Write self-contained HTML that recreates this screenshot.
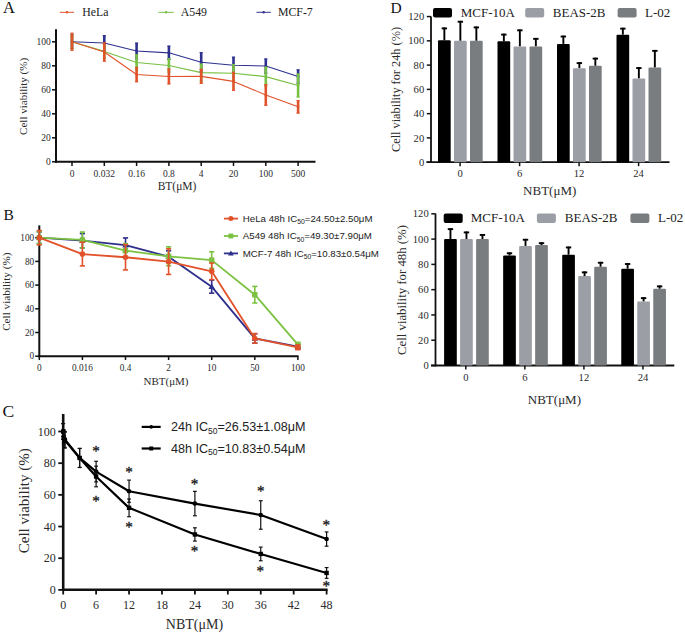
<!DOCTYPE html>
<html><head><meta charset="utf-8"><title>Cell viability figure</title>
<style>
html,body{margin:0;padding:0;background:#fff;}
body{width:685px;height:633px;overflow:hidden;font-family:"Liberation Serif", serif;}
svg{display:block;}
</style></head>
<body>
<svg width="685" height="633" viewBox="0 0 685 633">
<rect width="685" height="633" fill="#fff"/>
<text x="3" y="13.2" font-family='"Liberation Serif", serif' font-size="16.5" text-anchor="start" fill="#111" >A</text>
<line x1="56" y1="29.2" x2="56" y2="162.8" stroke="#111" stroke-width="2" />
<line x1="55" y1="161.8" x2="315.5" y2="161.8" stroke="#111" stroke-width="2" />
<line x1="52" y1="161.8" x2="56" y2="161.8" stroke="#111" stroke-width="1.5" />
<text x="50.8" y="165" font-family='"Liberation Serif", serif' font-size="9.5" text-anchor="end" fill="#2a2a2a" >0</text>
<line x1="52" y1="137.8" x2="56" y2="137.8" stroke="#111" stroke-width="1.5" />
<text x="50.8" y="141" font-family='"Liberation Serif", serif' font-size="9.5" text-anchor="end" fill="#2a2a2a" >20</text>
<line x1="52" y1="113.8" x2="56" y2="113.8" stroke="#111" stroke-width="1.5" />
<text x="50.8" y="117" font-family='"Liberation Serif", serif' font-size="9.5" text-anchor="end" fill="#2a2a2a" >40</text>
<line x1="52" y1="89.8" x2="56" y2="89.8" stroke="#111" stroke-width="1.5" />
<text x="50.8" y="93" font-family='"Liberation Serif", serif' font-size="9.5" text-anchor="end" fill="#2a2a2a" >60</text>
<line x1="52" y1="65.8" x2="56" y2="65.8" stroke="#111" stroke-width="1.5" />
<text x="50.8" y="69" font-family='"Liberation Serif", serif' font-size="9.5" text-anchor="end" fill="#2a2a2a" >80</text>
<line x1="52" y1="41.8" x2="56" y2="41.8" stroke="#111" stroke-width="1.5" />
<text x="50.8" y="45" font-family='"Liberation Serif", serif' font-size="9.5" text-anchor="end" fill="#2a2a2a" >100</text>
<line x1="72" y1="161.8" x2="72" y2="166" stroke="#111" stroke-width="1.5" />
<text x="72" y="176.6" font-family='"Liberation Serif", serif' font-size="9.5" text-anchor="middle" fill="#2a2a2a" >0</text>
<line x1="104.3" y1="161.8" x2="104.3" y2="166" stroke="#111" stroke-width="1.5" />
<text x="104.3" y="176.6" font-family='"Liberation Serif", serif' font-size="9.5" text-anchor="middle" fill="#2a2a2a" >0.032</text>
<line x1="136.6" y1="161.8" x2="136.6" y2="166" stroke="#111" stroke-width="1.5" />
<text x="136.6" y="176.6" font-family='"Liberation Serif", serif' font-size="9.5" text-anchor="middle" fill="#2a2a2a" >0.16</text>
<line x1="168.9" y1="161.8" x2="168.9" y2="166" stroke="#111" stroke-width="1.5" />
<text x="168.9" y="176.6" font-family='"Liberation Serif", serif' font-size="9.5" text-anchor="middle" fill="#2a2a2a" >0.8</text>
<line x1="201.2" y1="161.8" x2="201.2" y2="166" stroke="#111" stroke-width="1.5" />
<text x="201.2" y="176.6" font-family='"Liberation Serif", serif' font-size="9.5" text-anchor="middle" fill="#2a2a2a" >4</text>
<line x1="233.5" y1="161.8" x2="233.5" y2="166" stroke="#111" stroke-width="1.5" />
<text x="233.5" y="176.6" font-family='"Liberation Serif", serif' font-size="9.5" text-anchor="middle" fill="#2a2a2a" >20</text>
<line x1="265.8" y1="161.8" x2="265.8" y2="166" stroke="#111" stroke-width="1.5" />
<text x="265.8" y="176.6" font-family='"Liberation Serif", serif' font-size="9.5" text-anchor="middle" fill="#2a2a2a" >100</text>
<line x1="298.1" y1="161.8" x2="298.1" y2="166" stroke="#111" stroke-width="1.5" />
<text x="298.1" y="176.6" font-family='"Liberation Serif", serif' font-size="9.5" text-anchor="middle" fill="#2a2a2a" >500</text>
<text x="177" y="190.4" font-family='"Liberation Serif", serif' font-size="11.5" text-anchor="middle" fill="#2a2a2a" >BT(μM)</text>
<text x="27.4" y="96.4" font-family='"Liberation Serif", serif' font-size="11" text-anchor="middle" fill="#2a2a2a" transform="rotate(-90 27.4 96.4)">Cell viability (%)</text>
<polyline points="72,41.8 104.3,43 136.6,51.04 168.9,52.84 201.2,62.2 233.5,65.2 265.8,66.04 298.1,76.6" fill="none" stroke="#2e318f" stroke-width="1.1" stroke-linejoin="round"/>
<polyline points="72,41.8 104.3,51.4 136.6,62.44 168.9,65.44 201.2,72.64 233.5,73.24 265.8,76.6 298.1,85.48" fill="none" stroke="#77c043" stroke-width="1.1" stroke-linejoin="round"/>
<polyline points="72,41.8 104.3,52 136.6,74.56 168.9,76.48 201.2,76.36 233.5,81.4 265.8,94.96 298.1,106.84" fill="none" stroke="#e0532b" stroke-width="1.1" stroke-linejoin="round"/>
<line x1="72" y1="34.6" x2="72" y2="49" stroke="#2e318f" stroke-width="2.6" />
<line x1="70.4" y1="35.1" x2="73.6" y2="35.1" stroke="#2e318f" stroke-width="1" />
<line x1="70.4" y1="48.5" x2="73.6" y2="48.5" stroke="#2e318f" stroke-width="1" />
<circle cx="72" cy="41.8" r="1.3" fill="#2e318f"/>
<line x1="104.3" y1="35.2" x2="104.3" y2="50.8" stroke="#2e318f" stroke-width="2.6" />
<line x1="102.7" y1="35.7" x2="105.9" y2="35.7" stroke="#2e318f" stroke-width="1" />
<line x1="102.7" y1="50.3" x2="105.9" y2="50.3" stroke="#2e318f" stroke-width="1" />
<circle cx="104.3" cy="43" r="1.3" fill="#2e318f"/>
<line x1="136.6" y1="42.64" x2="136.6" y2="59.44" stroke="#2e318f" stroke-width="2.6" />
<line x1="135" y1="43.14" x2="138.2" y2="43.14" stroke="#2e318f" stroke-width="1" />
<line x1="135" y1="58.94" x2="138.2" y2="58.94" stroke="#2e318f" stroke-width="1" />
<circle cx="136.6" cy="51.04" r="1.3" fill="#2e318f"/>
<line x1="168.9" y1="45.64" x2="168.9" y2="60.04" stroke="#2e318f" stroke-width="2.6" />
<line x1="167.3" y1="46.14" x2="170.5" y2="46.14" stroke="#2e318f" stroke-width="1" />
<line x1="167.3" y1="59.54" x2="170.5" y2="59.54" stroke="#2e318f" stroke-width="1" />
<circle cx="168.9" cy="52.84" r="1.3" fill="#2e318f"/>
<line x1="201.2" y1="52.12" x2="201.2" y2="72.28" stroke="#2e318f" stroke-width="2.6" />
<line x1="199.6" y1="52.62" x2="202.8" y2="52.62" stroke="#2e318f" stroke-width="1" />
<line x1="199.6" y1="71.78" x2="202.8" y2="71.78" stroke="#2e318f" stroke-width="1" />
<circle cx="201.2" cy="62.2" r="1.3" fill="#2e318f"/>
<line x1="233.5" y1="56.68" x2="233.5" y2="73.72" stroke="#2e318f" stroke-width="2.6" />
<line x1="231.9" y1="57.18" x2="235.1" y2="57.18" stroke="#2e318f" stroke-width="1" />
<line x1="231.9" y1="73.22" x2="235.1" y2="73.22" stroke="#2e318f" stroke-width="1" />
<circle cx="233.5" cy="65.2" r="1.3" fill="#2e318f"/>
<line x1="265.8" y1="58.48" x2="265.8" y2="73.6" stroke="#2e318f" stroke-width="2.6" />
<line x1="264.2" y1="58.98" x2="267.4" y2="58.98" stroke="#2e318f" stroke-width="1" />
<line x1="264.2" y1="73.1" x2="267.4" y2="73.1" stroke="#2e318f" stroke-width="1" />
<circle cx="265.8" cy="66.04" r="1.3" fill="#2e318f"/>
<line x1="298.1" y1="69.4" x2="298.1" y2="83.8" stroke="#2e318f" stroke-width="2.6" />
<line x1="296.5" y1="69.9" x2="299.7" y2="69.9" stroke="#2e318f" stroke-width="1" />
<line x1="296.5" y1="83.3" x2="299.7" y2="83.3" stroke="#2e318f" stroke-width="1" />
<circle cx="298.1" cy="76.6" r="1.3" fill="#2e318f"/>
<line x1="72" y1="34.6" x2="72" y2="49" stroke="#77c043" stroke-width="2.6" />
<line x1="70.4" y1="35.1" x2="73.6" y2="35.1" stroke="#77c043" stroke-width="1" />
<line x1="70.4" y1="48.5" x2="73.6" y2="48.5" stroke="#77c043" stroke-width="1" />
<circle cx="72" cy="41.8" r="1.3" fill="#77c043"/>
<line x1="104.3" y1="44.2" x2="104.3" y2="58.6" stroke="#77c043" stroke-width="2.6" />
<line x1="102.7" y1="44.7" x2="105.9" y2="44.7" stroke="#77c043" stroke-width="1" />
<line x1="102.7" y1="58.1" x2="105.9" y2="58.1" stroke="#77c043" stroke-width="1" />
<circle cx="104.3" cy="51.4" r="1.3" fill="#77c043"/>
<line x1="136.6" y1="54.4" x2="136.6" y2="70.48" stroke="#77c043" stroke-width="2.6" />
<line x1="135" y1="54.9" x2="138.2" y2="54.9" stroke="#77c043" stroke-width="1" />
<line x1="135" y1="69.98" x2="138.2" y2="69.98" stroke="#77c043" stroke-width="1" />
<circle cx="136.6" cy="62.44" r="1.3" fill="#77c043"/>
<line x1="168.9" y1="58.24" x2="168.9" y2="72.64" stroke="#77c043" stroke-width="2.6" />
<line x1="167.3" y1="58.74" x2="170.5" y2="58.74" stroke="#77c043" stroke-width="1" />
<line x1="167.3" y1="72.14" x2="170.5" y2="72.14" stroke="#77c043" stroke-width="1" />
<circle cx="168.9" cy="65.44" r="1.3" fill="#77c043"/>
<line x1="201.2" y1="63.64" x2="201.2" y2="81.64" stroke="#77c043" stroke-width="2.6" />
<line x1="199.6" y1="64.14" x2="202.8" y2="64.14" stroke="#77c043" stroke-width="1" />
<line x1="199.6" y1="81.14" x2="202.8" y2="81.14" stroke="#77c043" stroke-width="1" />
<circle cx="201.2" cy="72.64" r="1.3" fill="#77c043"/>
<line x1="233.5" y1="64.12" x2="233.5" y2="82.36" stroke="#77c043" stroke-width="2.6" />
<line x1="231.9" y1="64.62" x2="235.1" y2="64.62" stroke="#77c043" stroke-width="1" />
<line x1="231.9" y1="81.86" x2="235.1" y2="81.86" stroke="#77c043" stroke-width="1" />
<circle cx="233.5" cy="73.24" r="1.3" fill="#77c043"/>
<line x1="265.8" y1="66.64" x2="265.8" y2="86.56" stroke="#77c043" stroke-width="2.6" />
<line x1="264.2" y1="67.14" x2="267.4" y2="67.14" stroke="#77c043" stroke-width="1" />
<line x1="264.2" y1="86.06" x2="267.4" y2="86.06" stroke="#77c043" stroke-width="1" />
<circle cx="265.8" cy="76.6" r="1.3" fill="#77c043"/>
<line x1="298.1" y1="73.48" x2="298.1" y2="97.48" stroke="#77c043" stroke-width="2.6" />
<line x1="296.5" y1="73.98" x2="299.7" y2="73.98" stroke="#77c043" stroke-width="1" />
<line x1="296.5" y1="96.98" x2="299.7" y2="96.98" stroke="#77c043" stroke-width="1" />
<circle cx="298.1" cy="85.48" r="1.3" fill="#77c043"/>
<line x1="72" y1="32.8" x2="72" y2="50.8" stroke="#e0532b" stroke-width="2.6" />
<line x1="70.4" y1="33.3" x2="73.6" y2="33.3" stroke="#e0532b" stroke-width="1" />
<line x1="70.4" y1="50.3" x2="73.6" y2="50.3" stroke="#e0532b" stroke-width="1" />
<circle cx="72" cy="41.8" r="1.3" fill="#e0532b"/>
<line x1="104.3" y1="42.4" x2="104.3" y2="61.6" stroke="#e0532b" stroke-width="2.6" />
<line x1="102.7" y1="42.9" x2="105.9" y2="42.9" stroke="#e0532b" stroke-width="1" />
<line x1="102.7" y1="61.1" x2="105.9" y2="61.1" stroke="#e0532b" stroke-width="1" />
<circle cx="104.3" cy="52" r="1.3" fill="#e0532b"/>
<line x1="136.6" y1="66.88" x2="136.6" y2="82.24" stroke="#e0532b" stroke-width="2.6" />
<line x1="135" y1="67.38" x2="138.2" y2="67.38" stroke="#e0532b" stroke-width="1" />
<line x1="135" y1="81.74" x2="138.2" y2="81.74" stroke="#e0532b" stroke-width="1" />
<circle cx="136.6" cy="74.56" r="1.3" fill="#e0532b"/>
<line x1="168.9" y1="68.56" x2="168.9" y2="84.4" stroke="#e0532b" stroke-width="2.6" />
<line x1="167.3" y1="69.06" x2="170.5" y2="69.06" stroke="#e0532b" stroke-width="1" />
<line x1="167.3" y1="83.9" x2="170.5" y2="83.9" stroke="#e0532b" stroke-width="1" />
<circle cx="168.9" cy="76.48" r="1.3" fill="#e0532b"/>
<line x1="201.2" y1="68.8" x2="201.2" y2="83.92" stroke="#e0532b" stroke-width="2.6" />
<line x1="199.6" y1="69.3" x2="202.8" y2="69.3" stroke="#e0532b" stroke-width="1" />
<line x1="199.6" y1="83.42" x2="202.8" y2="83.42" stroke="#e0532b" stroke-width="1" />
<circle cx="201.2" cy="76.36" r="1.3" fill="#e0532b"/>
<line x1="233.5" y1="71.8" x2="233.5" y2="91" stroke="#e0532b" stroke-width="2.6" />
<line x1="231.9" y1="72.3" x2="235.1" y2="72.3" stroke="#e0532b" stroke-width="1" />
<line x1="231.9" y1="90.5" x2="235.1" y2="90.5" stroke="#e0532b" stroke-width="1" />
<circle cx="233.5" cy="81.4" r="1.3" fill="#e0532b"/>
<line x1="265.8" y1="84.16" x2="265.8" y2="105.76" stroke="#e0532b" stroke-width="2.6" />
<line x1="264.2" y1="84.66" x2="267.4" y2="84.66" stroke="#e0532b" stroke-width="1" />
<line x1="264.2" y1="105.26" x2="267.4" y2="105.26" stroke="#e0532b" stroke-width="1" />
<circle cx="265.8" cy="94.96" r="1.3" fill="#e0532b"/>
<line x1="298.1" y1="100.12" x2="298.1" y2="113.56" stroke="#e0532b" stroke-width="2.6" />
<line x1="296.5" y1="100.62" x2="299.7" y2="100.62" stroke="#e0532b" stroke-width="1" />
<line x1="296.5" y1="113.06" x2="299.7" y2="113.06" stroke="#e0532b" stroke-width="1" />
<circle cx="298.1" cy="106.84" r="1.3" fill="#e0532b"/>
<line x1="59.8" y1="12.3" x2="74.1" y2="12.3" stroke="#e0532b" stroke-width="1" />
<circle cx="66.95" cy="12.3" r="1.2" fill="#e0532b"/>
<text x="82.3" y="16.2" font-family='"Liberation Serif", serif' font-size="11.8" text-anchor="start" fill="#222" >HeLa</text>
<line x1="158.4" y1="12.3" x2="173.7" y2="12.3" stroke="#77c043" stroke-width="1" />
<circle cx="166.05" cy="12.3" r="1.2" fill="#77c043"/>
<text x="180.8" y="16.2" font-family='"Liberation Serif", serif' font-size="11.8" text-anchor="start" fill="#222" >A549</text>
<line x1="256.5" y1="12.3" x2="270.8" y2="12.3" stroke="#2e318f" stroke-width="1" />
<circle cx="263.65" cy="12.3" r="1.2" fill="#2e318f"/>
<text x="278" y="16.2" font-family='"Liberation Serif", serif' font-size="11.8" text-anchor="start" fill="#222" >MCF-7</text>
<text x="3.5" y="219.7" font-family='"Liberation Serif", serif' font-size="15.5" text-anchor="start" fill="#111" >B</text>
<line x1="39.3" y1="225.4" x2="39.3" y2="357.2" stroke="#111" stroke-width="2" />
<line x1="38.3" y1="356.2" x2="298.5" y2="356.2" stroke="#111" stroke-width="2" />
<line x1="35.2" y1="356.2" x2="39.3" y2="356.2" stroke="#111" stroke-width="1.5" />
<text x="34.2" y="359.3" font-family='"Liberation Serif", serif' font-size="9.3" text-anchor="end" fill="#2a2a2a" >0</text>
<line x1="35.2" y1="332.5" x2="39.3" y2="332.5" stroke="#111" stroke-width="1.5" />
<text x="34.2" y="335.6" font-family='"Liberation Serif", serif' font-size="9.3" text-anchor="end" fill="#2a2a2a" >20</text>
<line x1="35.2" y1="308.8" x2="39.3" y2="308.8" stroke="#111" stroke-width="1.5" />
<text x="34.2" y="311.9" font-family='"Liberation Serif", serif' font-size="9.3" text-anchor="end" fill="#2a2a2a" >40</text>
<line x1="35.2" y1="285.1" x2="39.3" y2="285.1" stroke="#111" stroke-width="1.5" />
<text x="34.2" y="288.2" font-family='"Liberation Serif", serif' font-size="9.3" text-anchor="end" fill="#2a2a2a" >60</text>
<line x1="35.2" y1="261.4" x2="39.3" y2="261.4" stroke="#111" stroke-width="1.5" />
<text x="34.2" y="264.5" font-family='"Liberation Serif", serif' font-size="9.3" text-anchor="end" fill="#2a2a2a" >80</text>
<line x1="35.2" y1="237.7" x2="39.3" y2="237.7" stroke="#111" stroke-width="1.5" />
<text x="34.2" y="240.8" font-family='"Liberation Serif", serif' font-size="9.3" text-anchor="end" fill="#2a2a2a" >100</text>
<line x1="39.3" y1="356.2" x2="39.3" y2="360" stroke="#111" stroke-width="1.5" />
<text x="39.3" y="370.6" font-family='"Liberation Serif", serif' font-size="9.3" text-anchor="middle" fill="#2a2a2a" >0</text>
<line x1="82.4" y1="356.2" x2="82.4" y2="360" stroke="#111" stroke-width="1.5" />
<text x="82.4" y="370.6" font-family='"Liberation Serif", serif' font-size="9.3" text-anchor="middle" fill="#2a2a2a" >0.016</text>
<line x1="125.5" y1="356.2" x2="125.5" y2="360" stroke="#111" stroke-width="1.5" />
<text x="125.5" y="370.6" font-family='"Liberation Serif", serif' font-size="9.3" text-anchor="middle" fill="#2a2a2a" >0.4</text>
<line x1="168.6" y1="356.2" x2="168.6" y2="360" stroke="#111" stroke-width="1.5" />
<text x="168.6" y="370.6" font-family='"Liberation Serif", serif' font-size="9.3" text-anchor="middle" fill="#2a2a2a" >2</text>
<line x1="211.7" y1="356.2" x2="211.7" y2="360" stroke="#111" stroke-width="1.5" />
<text x="211.7" y="370.6" font-family='"Liberation Serif", serif' font-size="9.3" text-anchor="middle" fill="#2a2a2a" >10</text>
<line x1="254.8" y1="356.2" x2="254.8" y2="360" stroke="#111" stroke-width="1.5" />
<text x="254.8" y="370.6" font-family='"Liberation Serif", serif' font-size="9.3" text-anchor="middle" fill="#2a2a2a" >50</text>
<line x1="297.9" y1="356.2" x2="297.9" y2="360" stroke="#111" stroke-width="1.5" />
<text x="297.9" y="370.6" font-family='"Liberation Serif", serif' font-size="9.3" text-anchor="middle" fill="#2a2a2a" >100</text>
<text x="166" y="384.8" font-family='"Liberation Serif", serif' font-size="11" text-anchor="middle" fill="#2a2a2a" >NBT(μM)</text>
<text x="10.5" y="291.7" font-family='"Liberation Serif", serif' font-size="11.2" text-anchor="middle" fill="#2a2a2a" transform="rotate(-90 10.5 291.7)">Cell viability (%)</text>
<polyline points="39.3,237.7 82.4,240.66 125.5,245.05 168.6,256.66 211.7,286.64 254.8,338.43 297.9,346.72" fill="none" stroke="#2e2f8c" stroke-width="1.8" stroke-linejoin="round"/>
<line x1="39.3" y1="231.77" x2="39.3" y2="243.62" stroke="#2e2f8c" stroke-width="1.6" />
<line x1="36.7" y1="231.77" x2="41.9" y2="231.77" stroke="#2e2f8c" stroke-width="1.6" />
<line x1="36.7" y1="243.62" x2="41.9" y2="243.62" stroke="#2e2f8c" stroke-width="1.6" />
<polygon points="39.3,234.5 42.5,240.1 36.1,240.1" fill="#2e2f8c"/>
<line x1="82.4" y1="233.55" x2="82.4" y2="247.77" stroke="#2e2f8c" stroke-width="1.6" />
<line x1="79.8" y1="233.55" x2="85" y2="233.55" stroke="#2e2f8c" stroke-width="1.6" />
<line x1="79.8" y1="247.77" x2="85" y2="247.77" stroke="#2e2f8c" stroke-width="1.6" />
<polygon points="82.4,237.46 85.6,243.06 79.2,243.06" fill="#2e2f8c"/>
<line x1="125.5" y1="237.94" x2="125.5" y2="252.16" stroke="#2e2f8c" stroke-width="1.6" />
<line x1="122.9" y1="237.94" x2="128.1" y2="237.94" stroke="#2e2f8c" stroke-width="1.6" />
<line x1="122.9" y1="252.16" x2="128.1" y2="252.16" stroke="#2e2f8c" stroke-width="1.6" />
<polygon points="125.5,241.85 128.7,247.45 122.3,247.45" fill="#2e2f8c"/>
<line x1="168.6" y1="250.73" x2="168.6" y2="262.58" stroke="#2e2f8c" stroke-width="1.6" />
<line x1="166" y1="250.73" x2="171.2" y2="250.73" stroke="#2e2f8c" stroke-width="1.6" />
<line x1="166" y1="262.58" x2="171.2" y2="262.58" stroke="#2e2f8c" stroke-width="1.6" />
<polygon points="168.6,253.46 171.8,259.06 165.4,259.06" fill="#2e2f8c"/>
<line x1="211.7" y1="280.12" x2="211.7" y2="293.16" stroke="#2e2f8c" stroke-width="1.6" />
<line x1="209.1" y1="280.12" x2="214.3" y2="280.12" stroke="#2e2f8c" stroke-width="1.6" />
<line x1="209.1" y1="293.16" x2="214.3" y2="293.16" stroke="#2e2f8c" stroke-width="1.6" />
<polygon points="211.7,283.44 214.9,289.04 208.5,289.04" fill="#2e2f8c"/>
<line x1="254.8" y1="333.69" x2="254.8" y2="343.16" stroke="#2e2f8c" stroke-width="1.6" />
<line x1="252.2" y1="333.69" x2="257.4" y2="333.69" stroke="#2e2f8c" stroke-width="1.6" />
<line x1="252.2" y1="343.16" x2="257.4" y2="343.16" stroke="#2e2f8c" stroke-width="1.6" />
<polygon points="254.8,335.23 258,340.82 251.6,340.82" fill="#2e2f8c"/>
<line x1="297.9" y1="344.35" x2="297.9" y2="349.09" stroke="#2e2f8c" stroke-width="1.6" />
<line x1="295.3" y1="344.35" x2="300.5" y2="344.35" stroke="#2e2f8c" stroke-width="1.6" />
<line x1="295.3" y1="349.09" x2="300.5" y2="349.09" stroke="#2e2f8c" stroke-width="1.6" />
<polygon points="297.9,343.52 301.1,349.12 294.7,349.12" fill="#2e2f8c"/>
<polyline points="39.3,237.7 82.4,239.95 125.5,250.73 168.6,256.3 211.7,260.1 254.8,294.7 297.9,344.71" fill="none" stroke="#7cc242" stroke-width="1.8" stroke-linejoin="round"/>
<line x1="39.3" y1="231.77" x2="39.3" y2="243.62" stroke="#7cc242" stroke-width="1.6" />
<line x1="36.7" y1="231.77" x2="41.9" y2="231.77" stroke="#7cc242" stroke-width="1.6" />
<line x1="36.7" y1="243.62" x2="41.9" y2="243.62" stroke="#7cc242" stroke-width="1.6" />
<rect x="36.6" y="235" width="5.4" height="5.4" fill="#7cc242" />
<line x1="82.4" y1="232.01" x2="82.4" y2="247.89" stroke="#7cc242" stroke-width="1.6" />
<line x1="79.8" y1="232.01" x2="85" y2="232.01" stroke="#7cc242" stroke-width="1.6" />
<line x1="79.8" y1="247.89" x2="85" y2="247.89" stroke="#7cc242" stroke-width="1.6" />
<rect x="79.7" y="237.25" width="5.4" height="5.4" fill="#7cc242" />
<line x1="125.5" y1="243.62" x2="125.5" y2="257.84" stroke="#7cc242" stroke-width="1.6" />
<line x1="122.9" y1="243.62" x2="128.1" y2="243.62" stroke="#7cc242" stroke-width="1.6" />
<line x1="122.9" y1="257.84" x2="128.1" y2="257.84" stroke="#7cc242" stroke-width="1.6" />
<rect x="122.8" y="248.03" width="5.4" height="5.4" fill="#7cc242" />
<line x1="168.6" y1="246.82" x2="168.6" y2="265.78" stroke="#7cc242" stroke-width="1.6" />
<line x1="166" y1="246.82" x2="171.2" y2="246.82" stroke="#7cc242" stroke-width="1.6" />
<line x1="166" y1="265.78" x2="171.2" y2="265.78" stroke="#7cc242" stroke-width="1.6" />
<rect x="165.9" y="253.6" width="5.4" height="5.4" fill="#7cc242" />
<line x1="211.7" y1="251.8" x2="211.7" y2="268.39" stroke="#7cc242" stroke-width="1.6" />
<line x1="209.1" y1="251.8" x2="214.3" y2="251.8" stroke="#7cc242" stroke-width="1.6" />
<line x1="209.1" y1="268.39" x2="214.3" y2="268.39" stroke="#7cc242" stroke-width="1.6" />
<rect x="209" y="257.4" width="5.4" height="5.4" fill="#7cc242" />
<line x1="254.8" y1="286.4" x2="254.8" y2="302.99" stroke="#7cc242" stroke-width="1.6" />
<line x1="252.2" y1="286.4" x2="257.4" y2="286.4" stroke="#7cc242" stroke-width="1.6" />
<line x1="252.2" y1="302.99" x2="257.4" y2="302.99" stroke="#7cc242" stroke-width="1.6" />
<rect x="252.1" y="292" width="5.4" height="5.4" fill="#7cc242" />
<line x1="297.9" y1="342.34" x2="297.9" y2="347.08" stroke="#7cc242" stroke-width="1.6" />
<line x1="295.3" y1="342.34" x2="300.5" y2="342.34" stroke="#7cc242" stroke-width="1.6" />
<line x1="295.3" y1="347.08" x2="300.5" y2="347.08" stroke="#7cc242" stroke-width="1.6" />
<rect x="295.2" y="342.01" width="5.4" height="5.4" fill="#7cc242" />
<polyline points="39.3,237.7 82.4,254.05 125.5,257.25 168.6,261.64 211.7,271.35 254.8,338.43 297.9,347.31" fill="none" stroke="#e2522a" stroke-width="1.8" stroke-linejoin="round"/>
<line x1="39.3" y1="230.59" x2="39.3" y2="244.81" stroke="#e2522a" stroke-width="1.6" />
<line x1="36.7" y1="230.59" x2="41.9" y2="230.59" stroke="#e2522a" stroke-width="1.6" />
<line x1="36.7" y1="244.81" x2="41.9" y2="244.81" stroke="#e2522a" stroke-width="1.6" />
<circle cx="39.3" cy="237.7" r="2.8" fill="#e2522a"/>
<line x1="82.4" y1="242.2" x2="82.4" y2="265.9" stroke="#e2522a" stroke-width="1.6" />
<line x1="79.8" y1="242.2" x2="85" y2="242.2" stroke="#e2522a" stroke-width="1.6" />
<line x1="79.8" y1="265.9" x2="85" y2="265.9" stroke="#e2522a" stroke-width="1.6" />
<circle cx="82.4" cy="254.05" r="2.8" fill="#e2522a"/>
<line x1="125.5" y1="244.57" x2="125.5" y2="269.93" stroke="#e2522a" stroke-width="1.6" />
<line x1="122.9" y1="244.57" x2="128.1" y2="244.57" stroke="#e2522a" stroke-width="1.6" />
<line x1="122.9" y1="269.93" x2="128.1" y2="269.93" stroke="#e2522a" stroke-width="1.6" />
<circle cx="125.5" cy="257.25" r="2.8" fill="#e2522a"/>
<line x1="168.6" y1="248.84" x2="168.6" y2="274.44" stroke="#e2522a" stroke-width="1.6" />
<line x1="166" y1="248.84" x2="171.2" y2="248.84" stroke="#e2522a" stroke-width="1.6" />
<line x1="166" y1="274.44" x2="171.2" y2="274.44" stroke="#e2522a" stroke-width="1.6" />
<circle cx="168.6" cy="261.64" r="2.8" fill="#e2522a"/>
<line x1="211.7" y1="263.06" x2="211.7" y2="279.65" stroke="#e2522a" stroke-width="1.6" />
<line x1="209.1" y1="263.06" x2="214.3" y2="263.06" stroke="#e2522a" stroke-width="1.6" />
<line x1="209.1" y1="279.65" x2="214.3" y2="279.65" stroke="#e2522a" stroke-width="1.6" />
<circle cx="211.7" cy="271.35" r="2.8" fill="#e2522a"/>
<line x1="254.8" y1="333.69" x2="254.8" y2="343.16" stroke="#e2522a" stroke-width="1.6" />
<line x1="252.2" y1="333.69" x2="257.4" y2="333.69" stroke="#e2522a" stroke-width="1.6" />
<line x1="252.2" y1="343.16" x2="257.4" y2="343.16" stroke="#e2522a" stroke-width="1.6" />
<circle cx="254.8" cy="338.43" r="2.8" fill="#e2522a"/>
<line x1="297.9" y1="344.94" x2="297.9" y2="349.68" stroke="#e2522a" stroke-width="1.6" />
<line x1="295.3" y1="344.94" x2="300.5" y2="344.94" stroke="#e2522a" stroke-width="1.6" />
<line x1="295.3" y1="349.68" x2="300.5" y2="349.68" stroke="#e2522a" stroke-width="1.6" />
<circle cx="297.9" cy="347.31" r="2.8" fill="#e2522a"/>
<line x1="223.9" y1="218.6" x2="238" y2="218.6" stroke="#e2522a" stroke-width="1.8" />
<circle cx="230.9" cy="218.6" r="2.52" fill="#e2522a"/>
<text x="242.8" y="221.9" font-family='"Liberation Sans", sans-serif' font-size="9.7" text-anchor="start" fill="#222" >HeLa 48h IC<tspan font-size="6.8" dy="2.2">50</tspan><tspan dy="-2.2">=24.50±2.50μM</tspan></text>
<line x1="223.9" y1="236" x2="238" y2="236" stroke="#7cc242" stroke-width="1.8" />
<rect x="228.47" y="233.57" width="4.86" height="4.86" fill="#7cc242" />
<text x="242.8" y="239.3" font-family='"Liberation Sans", sans-serif' font-size="9.7" text-anchor="start" fill="#222" >A549 48h IC<tspan font-size="6.8" dy="2.2">50</tspan><tspan dy="-2.2">=49.30±7.90μM</tspan></text>
<line x1="223.9" y1="253.4" x2="238" y2="253.4" stroke="#2e2f8c" stroke-width="1.8" />
<polygon points="230.9,250.52 233.78,255.56 228.02,255.56" fill="#2e2f8c"/>
<text x="242.8" y="256.7" font-family='"Liberation Sans", sans-serif' font-size="9.7" text-anchor="start" fill="#222" >MCF-7 48h IC<tspan font-size="6.8" dy="2.2">50</tspan><tspan dy="-2.2">=10.83±0.54μM</tspan></text>
<text x="2.6" y="417" font-family='"Liberation Serif", serif' font-size="17.5" text-anchor="start" fill="#111" >C</text>
<line x1="63.2" y1="414" x2="63.2" y2="591" stroke="#111" stroke-width="2.6" />
<line x1="62" y1="589.7" x2="327.6" y2="589.7" stroke="#111" stroke-width="2.6" />
<line x1="58.3" y1="589.9" x2="63.2" y2="589.9" stroke="#111" stroke-width="1.8" />
<text x="55.8" y="594" font-family='"Liberation Serif", serif' font-size="12" text-anchor="end" fill="#2a2a2a" >0</text>
<line x1="58.3" y1="558.22" x2="63.2" y2="558.22" stroke="#111" stroke-width="1.8" />
<text x="55.8" y="562.32" font-family='"Liberation Serif", serif' font-size="12" text-anchor="end" fill="#2a2a2a" >20</text>
<line x1="58.3" y1="526.54" x2="63.2" y2="526.54" stroke="#111" stroke-width="1.8" />
<text x="55.8" y="530.64" font-family='"Liberation Serif", serif' font-size="12" text-anchor="end" fill="#2a2a2a" >40</text>
<line x1="58.3" y1="494.86" x2="63.2" y2="494.86" stroke="#111" stroke-width="1.8" />
<text x="55.8" y="498.96" font-family='"Liberation Serif", serif' font-size="12" text-anchor="end" fill="#2a2a2a" >60</text>
<line x1="58.3" y1="463.18" x2="63.2" y2="463.18" stroke="#111" stroke-width="1.8" />
<text x="55.8" y="467.28" font-family='"Liberation Serif", serif' font-size="12" text-anchor="end" fill="#2a2a2a" >80</text>
<line x1="58.3" y1="431.5" x2="63.2" y2="431.5" stroke="#111" stroke-width="1.8" />
<text x="55.8" y="435.6" font-family='"Liberation Serif", serif' font-size="12" text-anchor="end" fill="#2a2a2a" >100</text>
<line x1="63.2" y1="589.7" x2="63.2" y2="594.5" stroke="#111" stroke-width="1.8" />
<text x="63.2" y="609.3" font-family='"Liberation Serif", serif' font-size="12" text-anchor="middle" fill="#2a2a2a" >0</text>
<line x1="96.12" y1="589.7" x2="96.12" y2="594.5" stroke="#111" stroke-width="1.8" />
<text x="96.12" y="609.3" font-family='"Liberation Serif", serif' font-size="12" text-anchor="middle" fill="#2a2a2a" >6</text>
<line x1="129.05" y1="589.7" x2="129.05" y2="594.5" stroke="#111" stroke-width="1.8" />
<text x="129.05" y="609.3" font-family='"Liberation Serif", serif' font-size="12" text-anchor="middle" fill="#2a2a2a" >12</text>
<line x1="161.97" y1="589.7" x2="161.97" y2="594.5" stroke="#111" stroke-width="1.8" />
<text x="161.97" y="609.3" font-family='"Liberation Serif", serif' font-size="12" text-anchor="middle" fill="#2a2a2a" >18</text>
<line x1="194.9" y1="589.7" x2="194.9" y2="594.5" stroke="#111" stroke-width="1.8" />
<text x="194.9" y="609.3" font-family='"Liberation Serif", serif' font-size="12" text-anchor="middle" fill="#2a2a2a" >24</text>
<line x1="227.82" y1="589.7" x2="227.82" y2="594.5" stroke="#111" stroke-width="1.8" />
<text x="227.82" y="609.3" font-family='"Liberation Serif", serif' font-size="12" text-anchor="middle" fill="#2a2a2a" >30</text>
<line x1="260.75" y1="589.7" x2="260.75" y2="594.5" stroke="#111" stroke-width="1.8" />
<text x="260.75" y="609.3" font-family='"Liberation Serif", serif' font-size="12" text-anchor="middle" fill="#2a2a2a" >36</text>
<line x1="293.68" y1="589.7" x2="293.68" y2="594.5" stroke="#111" stroke-width="1.8" />
<text x="293.68" y="609.3" font-family='"Liberation Serif", serif' font-size="12" text-anchor="middle" fill="#2a2a2a" >42</text>
<line x1="326.6" y1="589.7" x2="326.6" y2="594.5" stroke="#111" stroke-width="1.8" />
<text x="326.6" y="609.3" font-family='"Liberation Serif", serif' font-size="12" text-anchor="middle" fill="#2a2a2a" >48</text>
<text x="194.5" y="629" font-family='"Liberation Serif", serif' font-size="14" text-anchor="middle" fill="#2a2a2a" >NBT(μM)</text>
<text x="29.2" y="500.8" font-family='"Liberation Serif", serif' font-size="15" text-anchor="middle" fill="#2a2a2a" transform="rotate(-90 29.2 500.8)">Cell viability (%)</text>
<polyline points="63.2,431.5 63.75,436.25 64.85,439.42 79.66,457.95 96.12,471.58 129.05,491.22 194.9,503.57 260.75,514.98 326.6,539.05" fill="none" stroke="#000" stroke-width="2.15" stroke-linejoin="round"/>
<line x1="63.2" y1="423.58" x2="63.2" y2="439.42" stroke="#111" stroke-width="1.2" />
<line x1="61.3" y1="423.58" x2="65.1" y2="423.58" stroke="#111" stroke-width="1.2" />
<line x1="61.3" y1="439.42" x2="65.1" y2="439.42" stroke="#111" stroke-width="1.2" />
<circle cx="63.2" cy="431.5" r="2.3" fill="#000"/>
<line x1="63.75" y1="429.92" x2="63.75" y2="442.59" stroke="#111" stroke-width="1.2" />
<line x1="61.85" y1="429.92" x2="65.65" y2="429.92" stroke="#111" stroke-width="1.2" />
<line x1="61.85" y1="442.59" x2="65.65" y2="442.59" stroke="#111" stroke-width="1.2" />
<circle cx="63.75" cy="436.25" r="2.3" fill="#000"/>
<line x1="64.85" y1="431.5" x2="64.85" y2="447.34" stroke="#111" stroke-width="1.2" />
<line x1="62.95" y1="431.5" x2="66.75" y2="431.5" stroke="#111" stroke-width="1.2" />
<line x1="62.95" y1="447.34" x2="66.75" y2="447.34" stroke="#111" stroke-width="1.2" />
<circle cx="64.85" cy="439.42" r="2.3" fill="#000"/>
<line x1="79.66" y1="448.45" x2="79.66" y2="467.46" stroke="#111" stroke-width="1.2" />
<line x1="77.76" y1="448.45" x2="81.56" y2="448.45" stroke="#111" stroke-width="1.2" />
<line x1="77.76" y1="467.46" x2="81.56" y2="467.46" stroke="#111" stroke-width="1.2" />
<circle cx="79.66" cy="457.95" r="2.3" fill="#000"/>
<line x1="96.12" y1="461.28" x2="96.12" y2="481.87" stroke="#111" stroke-width="1.2" />
<line x1="94.22" y1="461.28" x2="98.03" y2="461.28" stroke="#111" stroke-width="1.2" />
<line x1="94.22" y1="481.87" x2="98.03" y2="481.87" stroke="#111" stroke-width="1.2" />
<circle cx="96.12" cy="471.58" r="2.3" fill="#000"/>
<line x1="129.05" y1="480.13" x2="129.05" y2="502.3" stroke="#111" stroke-width="1.2" />
<line x1="127.15" y1="480.13" x2="130.95" y2="480.13" stroke="#111" stroke-width="1.2" />
<line x1="127.15" y1="502.3" x2="130.95" y2="502.3" stroke="#111" stroke-width="1.2" />
<circle cx="129.05" cy="491.22" r="2.3" fill="#000"/>
<line x1="194.9" y1="491.38" x2="194.9" y2="515.77" stroke="#111" stroke-width="1.2" />
<line x1="193" y1="491.38" x2="196.8" y2="491.38" stroke="#111" stroke-width="1.2" />
<line x1="193" y1="515.77" x2="196.8" y2="515.77" stroke="#111" stroke-width="1.2" />
<circle cx="194.9" cy="503.57" r="2.3" fill="#000"/>
<line x1="260.75" y1="500.72" x2="260.75" y2="529.23" stroke="#111" stroke-width="1.2" />
<line x1="258.85" y1="500.72" x2="262.65" y2="500.72" stroke="#111" stroke-width="1.2" />
<line x1="258.85" y1="529.23" x2="262.65" y2="529.23" stroke="#111" stroke-width="1.2" />
<circle cx="260.75" cy="514.98" r="2.3" fill="#000"/>
<line x1="326.6" y1="531.93" x2="326.6" y2="546.18" stroke="#111" stroke-width="1.2" />
<line x1="324.7" y1="531.93" x2="328.5" y2="531.93" stroke="#111" stroke-width="1.2" />
<line x1="324.7" y1="546.18" x2="328.5" y2="546.18" stroke="#111" stroke-width="1.2" />
<circle cx="326.6" cy="539.05" r="2.3" fill="#000"/>
<polyline points="63.2,431.5 63.75,437.84 64.85,440.21 79.66,457.95 96.12,476.49 129.05,507.85 194.9,534.46 260.75,553.94 326.6,572.95" fill="none" stroke="#000" stroke-width="2.15" stroke-linejoin="round"/>
<line x1="63.2" y1="423.58" x2="63.2" y2="439.42" stroke="#111" stroke-width="1.2" />
<line x1="61.3" y1="423.58" x2="65.1" y2="423.58" stroke="#111" stroke-width="1.2" />
<line x1="61.3" y1="439.42" x2="65.1" y2="439.42" stroke="#111" stroke-width="1.2" />
<rect x="61" y="429.3" width="4.4" height="4.4" fill="#000" />
<line x1="63.75" y1="431.5" x2="63.75" y2="444.17" stroke="#111" stroke-width="1.2" />
<line x1="61.85" y1="431.5" x2="65.65" y2="431.5" stroke="#111" stroke-width="1.2" />
<line x1="61.85" y1="444.17" x2="65.65" y2="444.17" stroke="#111" stroke-width="1.2" />
<rect x="61.55" y="435.64" width="4.4" height="4.4" fill="#000" />
<line x1="64.85" y1="432.29" x2="64.85" y2="448.13" stroke="#111" stroke-width="1.2" />
<line x1="62.95" y1="432.29" x2="66.75" y2="432.29" stroke="#111" stroke-width="1.2" />
<line x1="62.95" y1="448.13" x2="66.75" y2="448.13" stroke="#111" stroke-width="1.2" />
<rect x="62.65" y="438.01" width="4.4" height="4.4" fill="#000" />
<line x1="79.66" y1="448.45" x2="79.66" y2="467.46" stroke="#111" stroke-width="1.2" />
<line x1="77.76" y1="448.45" x2="81.56" y2="448.45" stroke="#111" stroke-width="1.2" />
<line x1="77.76" y1="467.46" x2="81.56" y2="467.46" stroke="#111" stroke-width="1.2" />
<rect x="77.46" y="455.75" width="4.4" height="4.4" fill="#000" />
<line x1="96.12" y1="466.19" x2="96.12" y2="486.78" stroke="#111" stroke-width="1.2" />
<line x1="94.22" y1="466.19" x2="98.03" y2="466.19" stroke="#111" stroke-width="1.2" />
<line x1="94.22" y1="486.78" x2="98.03" y2="486.78" stroke="#111" stroke-width="1.2" />
<rect x="93.92" y="474.29" width="4.4" height="4.4" fill="#000" />
<line x1="129.05" y1="498.98" x2="129.05" y2="516.72" stroke="#111" stroke-width="1.2" />
<line x1="127.15" y1="498.98" x2="130.95" y2="498.98" stroke="#111" stroke-width="1.2" />
<line x1="127.15" y1="516.72" x2="130.95" y2="516.72" stroke="#111" stroke-width="1.2" />
<rect x="126.85" y="505.65" width="4.4" height="4.4" fill="#000" />
<line x1="194.9" y1="527.81" x2="194.9" y2="541.11" stroke="#111" stroke-width="1.2" />
<line x1="193" y1="527.81" x2="196.8" y2="527.81" stroke="#111" stroke-width="1.2" />
<line x1="193" y1="541.11" x2="196.8" y2="541.11" stroke="#111" stroke-width="1.2" />
<rect x="192.7" y="532.26" width="4.4" height="4.4" fill="#000" />
<line x1="260.75" y1="547.13" x2="260.75" y2="560.75" stroke="#111" stroke-width="1.2" />
<line x1="258.85" y1="547.13" x2="262.65" y2="547.13" stroke="#111" stroke-width="1.2" />
<line x1="258.85" y1="560.75" x2="262.65" y2="560.75" stroke="#111" stroke-width="1.2" />
<rect x="258.55" y="551.74" width="4.4" height="4.4" fill="#000" />
<line x1="326.6" y1="567.57" x2="326.6" y2="578.34" stroke="#111" stroke-width="1.2" />
<line x1="324.7" y1="567.57" x2="328.5" y2="567.57" stroke="#111" stroke-width="1.2" />
<line x1="324.7" y1="578.34" x2="328.5" y2="578.34" stroke="#111" stroke-width="1.2" />
<rect x="324.4" y="570.75" width="4.4" height="4.4" fill="#000" />
<text x="96" y="455.7" font-family='"Liberation Serif", serif' font-size="15" text-anchor="middle" fill="#222" stroke="#222" stroke-width="0.35">*</text>
<text x="96" y="505.9" font-family='"Liberation Serif", serif' font-size="15" text-anchor="middle" fill="#222" stroke="#222" stroke-width="0.35">*</text>
<text x="129" y="476.7" font-family='"Liberation Serif", serif' font-size="15" text-anchor="middle" fill="#222" stroke="#222" stroke-width="0.35">*</text>
<text x="129" y="532" font-family='"Liberation Serif", serif' font-size="15" text-anchor="middle" fill="#222" stroke="#222" stroke-width="0.35">*</text>
<text x="194.5" y="488.9" font-family='"Liberation Serif", serif' font-size="15" text-anchor="middle" fill="#222" stroke="#222" stroke-width="0.35">*</text>
<text x="194.5" y="556.3" font-family='"Liberation Serif", serif' font-size="15" text-anchor="middle" fill="#222" stroke="#222" stroke-width="0.35">*</text>
<text x="260.8" y="496.1" font-family='"Liberation Serif", serif' font-size="15" text-anchor="middle" fill="#222" stroke="#222" stroke-width="0.35">*</text>
<text x="260.3" y="575.7" font-family='"Liberation Serif", serif' font-size="15" text-anchor="middle" fill="#222" stroke="#222" stroke-width="0.35">*</text>
<text x="326.3" y="530.3" font-family='"Liberation Serif", serif' font-size="15" text-anchor="middle" fill="#222" stroke="#222" stroke-width="0.35">*</text>
<text x="326.3" y="590.8" font-family='"Liberation Serif", serif' font-size="15" text-anchor="middle" fill="#222" stroke="#222" stroke-width="0.35">*</text>
<line x1="141.7" y1="426.9" x2="160.7" y2="426.9" stroke="#000" stroke-width="2.2" />
<circle cx="151.2" cy="426.9" r="1.8" fill="#000"/>
<text x="170.9" y="431" font-family='"Liberation Sans", sans-serif' font-size="12.6" text-anchor="start" fill="#222" >24h IC<tspan font-size="8.5" dy="2.8">50</tspan><tspan dy="-2.8">=26.53±1.08μM</tspan></text>
<line x1="141.7" y1="448.5" x2="160.7" y2="448.5" stroke="#000" stroke-width="2.2" />
<rect x="149.2" y="446.5" width="4" height="4" fill="#000" />
<text x="170.9" y="452.6" font-family='"Liberation Sans", sans-serif' font-size="12.6" text-anchor="start" fill="#222" >48h IC<tspan font-size="8.5" dy="2.8">50</tspan><tspan dy="-2.8">=10.83±0.54μM</tspan></text>
<text x="390.5" y="12.6" font-family='"Liberation Serif", serif' font-size="15.5" text-anchor="start" fill="#111" >D</text>
<line x1="431" y1="16.4" x2="431" y2="163.1" stroke="#111" stroke-width="1.8" />
<line x1="426.5" y1="162.2" x2="669.5" y2="162.2" stroke="#111" stroke-width="1.8" />
<line x1="426.8" y1="162.2" x2="431" y2="162.2" stroke="#111" stroke-width="1.5" />
<text x="424.2" y="165.8" font-family='"Liberation Serif", serif' font-size="10.6" text-anchor="end" fill="#2a2a2a" >0</text>
<line x1="426.8" y1="137.93" x2="431" y2="137.93" stroke="#111" stroke-width="1.5" />
<text x="424.2" y="141.53" font-family='"Liberation Serif", serif' font-size="10.6" text-anchor="end" fill="#2a2a2a" >20</text>
<line x1="426.8" y1="113.66" x2="431" y2="113.66" stroke="#111" stroke-width="1.5" />
<text x="424.2" y="117.26" font-family='"Liberation Serif", serif' font-size="10.6" text-anchor="end" fill="#2a2a2a" >40</text>
<line x1="426.8" y1="89.39" x2="431" y2="89.39" stroke="#111" stroke-width="1.5" />
<text x="424.2" y="92.99" font-family='"Liberation Serif", serif' font-size="10.6" text-anchor="end" fill="#2a2a2a" >60</text>
<line x1="426.8" y1="65.12" x2="431" y2="65.12" stroke="#111" stroke-width="1.5" />
<text x="424.2" y="68.72" font-family='"Liberation Serif", serif' font-size="10.6" text-anchor="end" fill="#2a2a2a" >80</text>
<line x1="426.8" y1="40.85" x2="431" y2="40.85" stroke="#111" stroke-width="1.5" />
<text x="424.2" y="44.45" font-family='"Liberation Serif", serif' font-size="10.6" text-anchor="end" fill="#2a2a2a" >100</text>
<line x1="426.8" y1="16.58" x2="431" y2="16.58" stroke="#111" stroke-width="1.5" />
<text x="424.2" y="20.18" font-family='"Liberation Serif", serif' font-size="10.6" text-anchor="end" fill="#2a2a2a" >120</text>
<line x1="444.35" y1="27.5" x2="444.35" y2="40.36" stroke="#000" stroke-width="1.9" />
<line x1="441.65" y1="28.4" x2="447.05" y2="28.4" stroke="#000" stroke-width="1.9" />
<rect x="438" y="40.36" width="12.7" height="121.84" fill="#000" rx="1"/>
<line x1="460.35" y1="20.83" x2="460.35" y2="40.85" stroke="#000" stroke-width="1.9" />
<line x1="457.65" y1="21.73" x2="463.05" y2="21.73" stroke="#000" stroke-width="1.9" />
<rect x="454" y="40.85" width="12.7" height="121.35" fill="#9b9fa5" rx="1"/>
<line x1="476.35" y1="26.53" x2="476.35" y2="40.85" stroke="#000" stroke-width="1.9" />
<line x1="473.65" y1="27.43" x2="479.05" y2="27.43" stroke="#000" stroke-width="1.9" />
<rect x="470" y="40.85" width="12.7" height="121.35" fill="#7a7d80" rx="1"/>
<line x1="503.85" y1="33.69" x2="503.85" y2="41.34" stroke="#000" stroke-width="1.9" />
<line x1="501.15" y1="34.59" x2="506.55" y2="34.59" stroke="#000" stroke-width="1.9" />
<rect x="497.5" y="41.34" width="12.7" height="120.86" fill="#000" rx="1"/>
<line x1="519.85" y1="29.44" x2="519.85" y2="46.43" stroke="#000" stroke-width="1.9" />
<line x1="517.15" y1="30.34" x2="522.55" y2="30.34" stroke="#000" stroke-width="1.9" />
<rect x="513.5" y="46.43" width="12.7" height="115.77" fill="#9b9fa5" rx="1"/>
<line x1="535.85" y1="37.94" x2="535.85" y2="46.43" stroke="#000" stroke-width="1.9" />
<line x1="533.15" y1="38.84" x2="538.55" y2="38.84" stroke="#000" stroke-width="1.9" />
<rect x="529.5" y="46.43" width="12.7" height="115.77" fill="#7a7d80" rx="1"/>
<line x1="563.35" y1="35.63" x2="563.35" y2="43.88" stroke="#000" stroke-width="1.9" />
<line x1="560.65" y1="36.53" x2="566.05" y2="36.53" stroke="#000" stroke-width="1.9" />
<rect x="557" y="43.88" width="12.7" height="118.32" fill="#000" rx="1"/>
<line x1="579.35" y1="62.21" x2="579.35" y2="68.15" stroke="#000" stroke-width="1.9" />
<line x1="576.65" y1="63.11" x2="582.05" y2="63.11" stroke="#000" stroke-width="1.9" />
<rect x="573" y="68.15" width="12.7" height="94.05" fill="#9b9fa5" rx="1"/>
<line x1="595.35" y1="57.72" x2="595.35" y2="65.85" stroke="#000" stroke-width="1.9" />
<line x1="592.65" y1="58.62" x2="598.05" y2="58.62" stroke="#000" stroke-width="1.9" />
<rect x="589" y="65.85" width="12.7" height="96.35" fill="#7a7d80" rx="1"/>
<line x1="622.85" y1="27.74" x2="622.85" y2="34.66" stroke="#000" stroke-width="1.9" />
<line x1="620.15" y1="28.64" x2="625.55" y2="28.64" stroke="#000" stroke-width="1.9" />
<rect x="616.5" y="34.66" width="12.7" height="127.54" fill="#000" rx="1"/>
<line x1="638.85" y1="67.18" x2="638.85" y2="78.47" stroke="#000" stroke-width="1.9" />
<line x1="636.15" y1="68.08" x2="641.55" y2="68.08" stroke="#000" stroke-width="1.9" />
<rect x="632.5" y="78.47" width="12.7" height="83.73" fill="#9b9fa5" rx="1"/>
<line x1="654.85" y1="49.95" x2="654.85" y2="67.55" stroke="#000" stroke-width="1.9" />
<line x1="652.15" y1="50.85" x2="657.55" y2="50.85" stroke="#000" stroke-width="1.9" />
<rect x="648.5" y="67.55" width="12.7" height="94.65" fill="#7a7d80" rx="1"/>
<line x1="460.1" y1="162.2" x2="460.1" y2="166.2" stroke="#111" stroke-width="1.5" />
<text x="460.1" y="177.4" font-family='"Liberation Serif", serif' font-size="10.6" text-anchor="middle" fill="#2a2a2a" >0</text>
<line x1="519.6" y1="162.2" x2="519.6" y2="166.2" stroke="#111" stroke-width="1.5" />
<text x="519.6" y="177.4" font-family='"Liberation Serif", serif' font-size="10.6" text-anchor="middle" fill="#2a2a2a" >6</text>
<line x1="579.1" y1="162.2" x2="579.1" y2="166.2" stroke="#111" stroke-width="1.5" />
<text x="579.1" y="177.4" font-family='"Liberation Serif", serif' font-size="10.6" text-anchor="middle" fill="#2a2a2a" >12</text>
<line x1="638.6" y1="162.2" x2="638.6" y2="166.2" stroke="#111" stroke-width="1.5" />
<text x="638.6" y="177.4" font-family='"Liberation Serif", serif' font-size="10.6" text-anchor="middle" fill="#2a2a2a" >24</text>
<text x="549.7" y="195.4" font-family='"Liberation Serif", serif' font-size="13" text-anchor="middle" fill="#2a2a2a" >NBT(μM)</text>
<text x="399.7" y="89.5" font-family='"Liberation Serif", serif' font-size="12.3" text-anchor="middle" fill="#2a2a2a" transform="rotate(-90 399.7 89.5)">Cell viability for 24h (%)</text>
<rect x="433" y="8.1" width="19" height="9.4" fill="#000" rx="2"/>
<text x="460.7" y="16.7" font-family='"Liberation Serif", serif' font-size="13" text-anchor="start" fill="#222" >MCF-10A</text>
<rect x="525.2" y="8.1" width="19" height="9.4" fill="#9b9fa5" rx="2"/>
<text x="552.8" y="16.7" font-family='"Liberation Serif", serif' font-size="13" text-anchor="start" fill="#222" >BEAS-2B</text>
<rect x="617.6" y="8.1" width="19" height="9.4" fill="#7a7d80" rx="2"/>
<text x="645.1" y="16.7" font-family='"Liberation Serif", serif' font-size="13" text-anchor="start" fill="#222" >L-02</text>
<line x1="435.5" y1="213.5" x2="435.5" y2="366.4" stroke="#111" stroke-width="1.8" />
<line x1="431" y1="365.5" x2="674.3" y2="365.5" stroke="#111" stroke-width="1.8" />
<line x1="431.3" y1="365.5" x2="435.5" y2="365.5" stroke="#111" stroke-width="1.5" />
<text x="428.7" y="369.1" font-family='"Liberation Serif", serif' font-size="10.6" text-anchor="end" fill="#2a2a2a" >0</text>
<line x1="431.3" y1="340.22" x2="435.5" y2="340.22" stroke="#111" stroke-width="1.5" />
<text x="428.7" y="343.82" font-family='"Liberation Serif", serif' font-size="10.6" text-anchor="end" fill="#2a2a2a" >20</text>
<line x1="431.3" y1="314.94" x2="435.5" y2="314.94" stroke="#111" stroke-width="1.5" />
<text x="428.7" y="318.54" font-family='"Liberation Serif", serif' font-size="10.6" text-anchor="end" fill="#2a2a2a" >40</text>
<line x1="431.3" y1="289.66" x2="435.5" y2="289.66" stroke="#111" stroke-width="1.5" />
<text x="428.7" y="293.26" font-family='"Liberation Serif", serif' font-size="10.6" text-anchor="end" fill="#2a2a2a" >60</text>
<line x1="431.3" y1="264.38" x2="435.5" y2="264.38" stroke="#111" stroke-width="1.5" />
<text x="428.7" y="267.98" font-family='"Liberation Serif", serif' font-size="10.6" text-anchor="end" fill="#2a2a2a" >80</text>
<line x1="431.3" y1="239.1" x2="435.5" y2="239.1" stroke="#111" stroke-width="1.5" />
<text x="428.7" y="242.7" font-family='"Liberation Serif", serif' font-size="10.6" text-anchor="end" fill="#2a2a2a" >100</text>
<line x1="431.3" y1="213.82" x2="435.5" y2="213.82" stroke="#111" stroke-width="1.5" />
<text x="428.7" y="217.42" font-family='"Liberation Serif", serif' font-size="10.6" text-anchor="end" fill="#2a2a2a" >120</text>
<line x1="450.45" y1="228.23" x2="450.45" y2="239.1" stroke="#000" stroke-width="1.9" />
<line x1="447.75" y1="229.13" x2="453.15" y2="229.13" stroke="#000" stroke-width="1.9" />
<rect x="444.1" y="239.1" width="12.7" height="126.4" fill="#000" rx="1"/>
<line x1="466.45" y1="231.52" x2="466.45" y2="239.1" stroke="#000" stroke-width="1.9" />
<line x1="463.75" y1="232.42" x2="469.15" y2="232.42" stroke="#000" stroke-width="1.9" />
<rect x="460.1" y="239.1" width="12.7" height="126.4" fill="#9b9fa5" rx="1"/>
<line x1="482.45" y1="234.04" x2="482.45" y2="239.1" stroke="#000" stroke-width="1.9" />
<line x1="479.75" y1="234.94" x2="485.15" y2="234.94" stroke="#000" stroke-width="1.9" />
<rect x="476.1" y="239.1" width="12.7" height="126.4" fill="#7a7d80" rx="1"/>
<line x1="509.5" y1="252.37" x2="509.5" y2="255.41" stroke="#000" stroke-width="1.9" />
<line x1="506.8" y1="253.27" x2="512.2" y2="253.27" stroke="#000" stroke-width="1.9" />
<rect x="503.15" y="255.41" width="12.7" height="110.09" fill="#000" rx="1"/>
<line x1="525.5" y1="238.85" x2="525.5" y2="245.93" stroke="#000" stroke-width="1.9" />
<line x1="522.8" y1="239.75" x2="528.2" y2="239.75" stroke="#000" stroke-width="1.9" />
<rect x="519.15" y="245.93" width="12.7" height="119.57" fill="#9b9fa5" rx="1"/>
<line x1="541.5" y1="242.26" x2="541.5" y2="245.04" stroke="#000" stroke-width="1.9" />
<line x1="538.8" y1="243.16" x2="544.2" y2="243.16" stroke="#000" stroke-width="1.9" />
<rect x="535.15" y="245.04" width="12.7" height="120.46" fill="#7a7d80" rx="1"/>
<line x1="568.55" y1="246.56" x2="568.55" y2="254.65" stroke="#000" stroke-width="1.9" />
<line x1="565.85" y1="247.46" x2="571.25" y2="247.46" stroke="#000" stroke-width="1.9" />
<rect x="562.2" y="254.65" width="12.7" height="110.85" fill="#000" rx="1"/>
<line x1="584.55" y1="271.46" x2="584.55" y2="276.01" stroke="#000" stroke-width="1.9" />
<line x1="581.85" y1="272.36" x2="587.25" y2="272.36" stroke="#000" stroke-width="1.9" />
<rect x="578.2" y="276.01" width="12.7" height="89.49" fill="#9b9fa5" rx="1"/>
<line x1="600.55" y1="261.85" x2="600.55" y2="266.78" stroke="#000" stroke-width="1.9" />
<line x1="597.85" y1="262.75" x2="603.25" y2="262.75" stroke="#000" stroke-width="1.9" />
<rect x="594.2" y="266.78" width="12.7" height="98.72" fill="#7a7d80" rx="1"/>
<line x1="627.6" y1="263.12" x2="627.6" y2="268.68" stroke="#000" stroke-width="1.9" />
<line x1="624.9" y1="264.02" x2="630.3" y2="264.02" stroke="#000" stroke-width="1.9" />
<rect x="621.25" y="268.68" width="12.7" height="96.82" fill="#000" rx="1"/>
<line x1="643.6" y1="297.24" x2="643.6" y2="301.54" stroke="#000" stroke-width="1.9" />
<line x1="640.9" y1="298.14" x2="646.3" y2="298.14" stroke="#000" stroke-width="1.9" />
<rect x="637.25" y="301.54" width="12.7" height="63.96" fill="#9b9fa5" rx="1"/>
<line x1="659.6" y1="285.49" x2="659.6" y2="288.78" stroke="#000" stroke-width="1.9" />
<line x1="656.9" y1="286.39" x2="662.3" y2="286.39" stroke="#000" stroke-width="1.9" />
<rect x="653.25" y="288.78" width="12.7" height="76.72" fill="#7a7d80" rx="1"/>
<line x1="465.8" y1="365.5" x2="465.8" y2="369.5" stroke="#111" stroke-width="1.5" />
<text x="465.8" y="380.7" font-family='"Liberation Serif", serif' font-size="10.6" text-anchor="middle" fill="#2a2a2a" >0</text>
<line x1="524.85" y1="365.5" x2="524.85" y2="369.5" stroke="#111" stroke-width="1.5" />
<text x="524.85" y="380.7" font-family='"Liberation Serif", serif' font-size="10.6" text-anchor="middle" fill="#2a2a2a" >6</text>
<line x1="583.9" y1="365.5" x2="583.9" y2="369.5" stroke="#111" stroke-width="1.5" />
<text x="583.9" y="380.7" font-family='"Liberation Serif", serif' font-size="10.6" text-anchor="middle" fill="#2a2a2a" >12</text>
<line x1="642.95" y1="365.5" x2="642.95" y2="369.5" stroke="#111" stroke-width="1.5" />
<text x="642.95" y="380.7" font-family='"Liberation Serif", serif' font-size="10.6" text-anchor="middle" fill="#2a2a2a" >24</text>
<text x="554.4" y="404.3" font-family='"Liberation Serif", serif' font-size="13" text-anchor="middle" fill="#2a2a2a" >NBT(μM)</text>
<text x="406.2" y="290" font-family='"Liberation Serif", serif' font-size="12.8" text-anchor="middle" fill="#2a2a2a" transform="rotate(-90 406.2 290)">Cell viability for 48h (%)</text>
<rect x="443.7" y="213.6" width="19" height="9.4" fill="#000" rx="2"/>
<text x="470.7" y="222.2" font-family='"Liberation Serif", serif' font-size="13" text-anchor="start" fill="#222" >MCF-10A</text>
<rect x="536.9" y="213.6" width="19" height="9.4" fill="#9b9fa5" rx="2"/>
<text x="564.8" y="222.2" font-family='"Liberation Serif", serif' font-size="13" text-anchor="start" fill="#222" >BEAS-2B</text>
<rect x="630.4" y="213.6" width="19" height="9.4" fill="#7a7d80" rx="2"/>
<text x="658" y="222.2" font-family='"Liberation Serif", serif' font-size="13" text-anchor="start" fill="#222" >L-02</text>
</svg>
</body></html>
